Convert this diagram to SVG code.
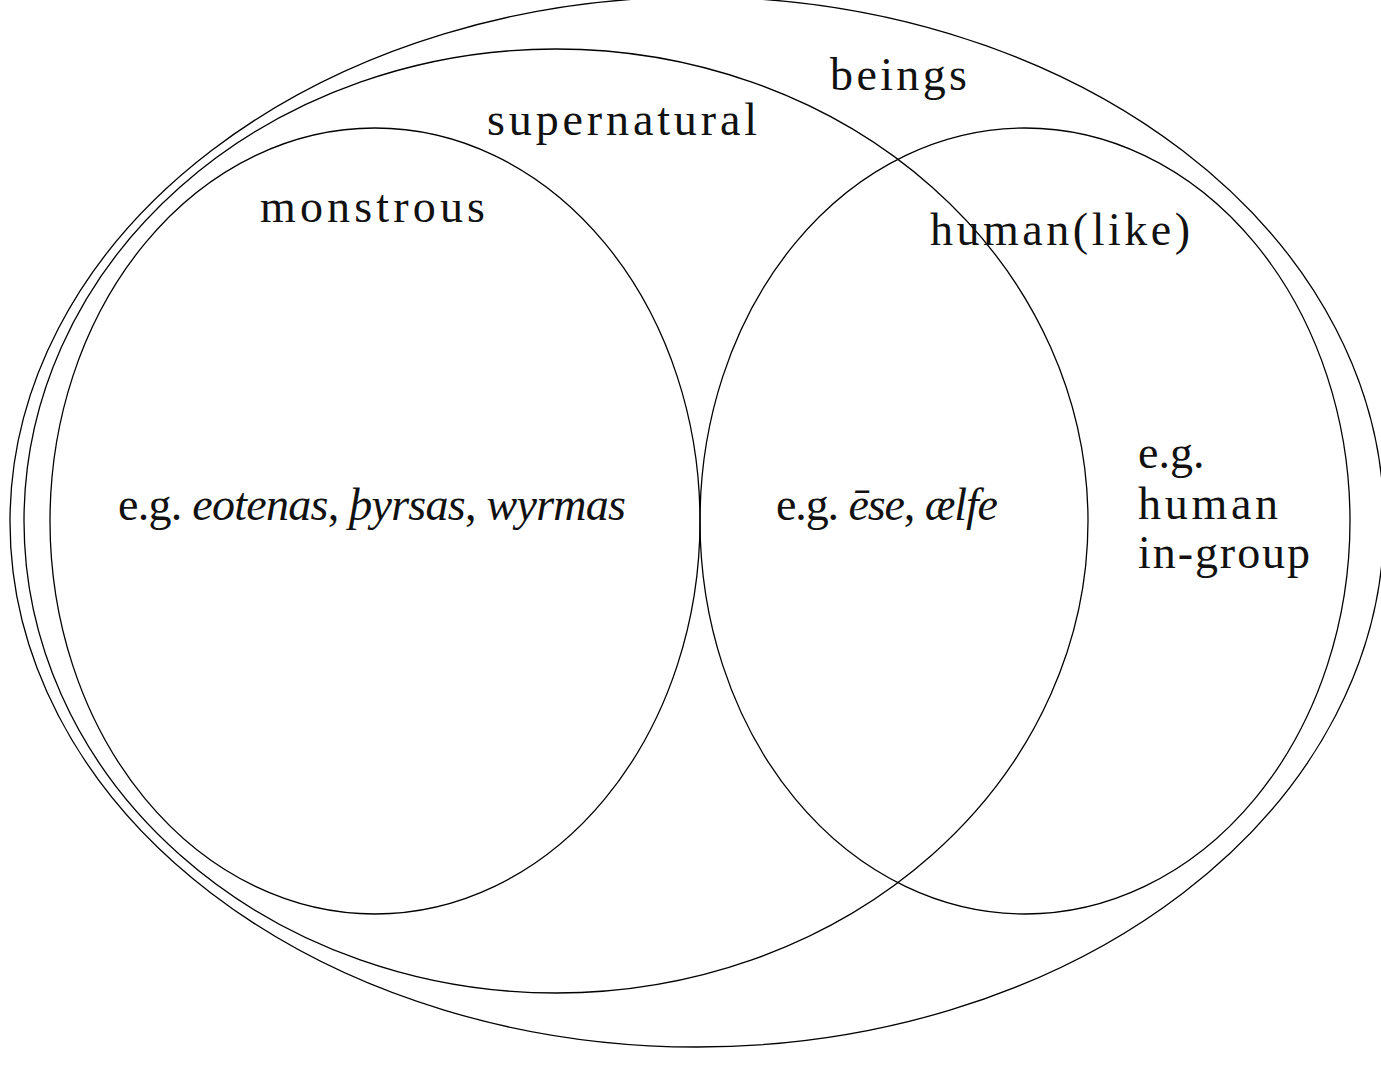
<svg xmlns="http://www.w3.org/2000/svg" width="1381" height="1076" viewBox="0 0 1381 1076">
<style>
.c{fill:none;stroke:#000;stroke-width:1.3}
text{font-family:"Liberation Serif","DejaVu Serif",serif;font-size:46px;fill:#111}
.i{font-style:italic}
</style>
<rect width="1381" height="1076" fill="#fff"/>
<g id="beings"><ellipse class="c" cx="697" cy="522" rx="687" ry="525"/><text x="830" y="90" textLength="137">beings</text></g>
<g id="supernatural"><ellipse class="c" cx="556" cy="521" rx="532" ry="472"/><text x="487" y="135" textLength="270">supernatural</text></g>
<g id="monstrous"><ellipse class="c" cx="375" cy="521" rx="325" ry="393"/><text x="260" y="222" textLength="225">monstrous</text>
<text x="118" y="520" textLength="508">e.g. <tspan class="i">eotenas</tspan>, <tspan class="i">þyrsas</tspan>, <tspan class="i">wyrmas</tspan></text></g>
<g id="humanlike"><ellipse class="c" cx="1025" cy="521" rx="325" ry="393"/><text x="930" y="245" textLength="260">human(like)</text>
<text x="776" y="520" textLength="222">e.g. <tspan class="i">ēse</tspan>, <tspan class="i">ælfe</tspan></text>
<text x="1138" y="468">e.g.</text><text x="1138" y="519" textLength="140">human</text><text x="1138" y="568" textLength="172">in-group</text></g>
<g id="connectors"/>
</svg>
